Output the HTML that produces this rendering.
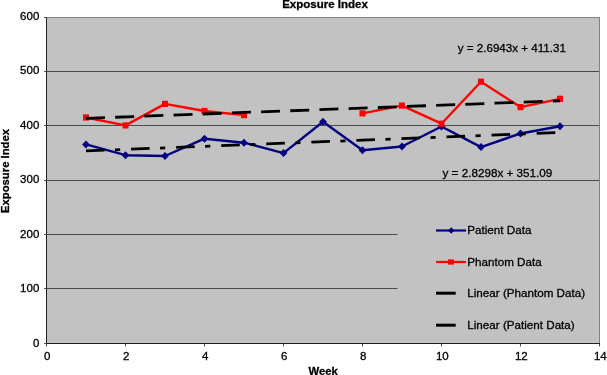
<!DOCTYPE html><html><head><meta charset="utf-8"><title>Exposure Index</title>
<style>html,body{margin:0;padding:0;background:#fff;overflow:hidden}svg{display:block}text{font-family:"Liberation Sans",Arial,sans-serif;fill:#000;stroke:#000;stroke-width:0.3px}</style></head><body>
<svg width="607" height="375" viewBox="0 0 607 375">
<defs><pattern id="dith" width="2" height="2" patternUnits="userSpaceOnUse"><rect width="2" height="2" fill="#bfbfbf"/><rect width="1" height="1" fill="#c5c5c5"/><rect x="1" y="1" width="1" height="1" fill="#c5c5c5"/></pattern></defs>
<rect width="607" height="375" fill="#fff"/>
<rect x="46.5" y="17.5" width="553" height="326" fill="url(#dith)" stroke="#808080" stroke-width="1"/>
<line x1="46.5" x2="599" y1="288.5" y2="288.5" stroke="#4a4a4a" stroke-width="1"/>
<line x1="46.5" x2="599" y1="234.5" y2="234.5" stroke="#4a4a4a" stroke-width="1"/>
<line x1="46.5" x2="599" y1="180.5" y2="180.5" stroke="#4a4a4a" stroke-width="1"/>
<line x1="46.5" x2="599" y1="125.5" y2="125.5" stroke="#4a4a4a" stroke-width="1"/>
<line x1="46.5" x2="599" y1="71.5" y2="71.5" stroke="#4a4a4a" stroke-width="1"/>
<rect x="397.5" y="211" width="201.5" height="131" fill="url(#dith)"/>
<line x1="46.5" x2="46.5" y1="17" y2="344" stroke="#202020" stroke-width="1"/>
<line x1="46" x2="600" y1="343.5" y2="343.5" stroke="#202020" stroke-width="1"/>
<line x1="44" x2="46.5" y1="343.5" y2="343.5" stroke="#505050" stroke-width="1"/>
<text x="39.3" y="346.82" font-size="11.5" text-anchor="end">0</text>
<line x1="44" x2="46.5" y1="288.5" y2="288.5" stroke="#505050" stroke-width="1"/>
<text x="39.3" y="292.35" font-size="11.5" text-anchor="end">100</text>
<line x1="44" x2="46.5" y1="234.5" y2="234.5" stroke="#505050" stroke-width="1"/>
<text x="39.3" y="237.88" font-size="11.5" text-anchor="end">200</text>
<line x1="44" x2="46.5" y1="180.5" y2="180.5" stroke="#505050" stroke-width="1"/>
<text x="39.3" y="183.41" font-size="11.5" text-anchor="end">300</text>
<line x1="44" x2="46.5" y1="125.5" y2="125.5" stroke="#505050" stroke-width="1"/>
<text x="39.3" y="128.94" font-size="11.5" text-anchor="end">400</text>
<line x1="44" x2="46.5" y1="71.5" y2="71.5" stroke="#505050" stroke-width="1"/>
<text x="39.3" y="74.47" font-size="11.5" text-anchor="end">500</text>
<line x1="44" x2="46.5" y1="17.5" y2="17.5" stroke="#505050" stroke-width="1"/>
<text x="39.3" y="20.00" font-size="11.5" text-anchor="end">600</text>
<line x1="46.50" x2="46.50" y1="344" y2="346.5" stroke="#505050" stroke-width="1"/>
<text x="47.30" y="359.8" font-size="11.5" text-anchor="middle">0</text>
<line x1="125.50" x2="125.50" y1="344" y2="346.5" stroke="#505050" stroke-width="1"/>
<text x="126.30" y="359.8" font-size="11.5" text-anchor="middle">2</text>
<line x1="204.50" x2="204.50" y1="344" y2="346.5" stroke="#505050" stroke-width="1"/>
<text x="205.30" y="359.8" font-size="11.5" text-anchor="middle">4</text>
<line x1="283.50" x2="283.50" y1="344" y2="346.5" stroke="#505050" stroke-width="1"/>
<text x="284.30" y="359.8" font-size="11.5" text-anchor="middle">6</text>
<line x1="362.50" x2="362.50" y1="344" y2="346.5" stroke="#505050" stroke-width="1"/>
<text x="363.30" y="359.8" font-size="11.5" text-anchor="middle">8</text>
<line x1="441.50" x2="441.50" y1="344" y2="346.5" stroke="#505050" stroke-width="1"/>
<text x="442.30" y="359.8" font-size="11.5" text-anchor="middle">10</text>
<line x1="520.50" x2="520.50" y1="344" y2="346.5" stroke="#505050" stroke-width="1"/>
<text x="521.30" y="359.8" font-size="11.5" text-anchor="middle">12</text>
<line x1="599.50" x2="599.50" y1="344" y2="346.5" stroke="#505050" stroke-width="1"/>
<text x="600.30" y="359.8" font-size="11.5" text-anchor="middle">14</text>
<polyline fill="none" stroke="#000080" stroke-width="2.4" stroke-linejoin="round" points="86.0,144.4 125.5,155.2 165.0,156.0 204.5,138.7 244.0,142.7 283.5,153.1 323.0,121.8 362.5,150.3 402.0,146.5 441.5,126.5 481.0,147.1 520.5,133.5 560.0,126.2"/>
<path d="M86.0 140.4L89.9 144.4L86.0 148.4L82.1 144.4Z" fill="#000080"/>
<path d="M125.5 151.2L129.4 155.2L125.5 159.2L121.6 155.2Z" fill="#000080"/>
<path d="M165.0 152.0L168.9 156.0L165.0 160.0L161.1 156.0Z" fill="#000080"/>
<path d="M204.5 134.7L208.4 138.7L204.5 142.7L200.6 138.7Z" fill="#000080"/>
<path d="M244.0 138.7L247.9 142.7L244.0 146.7L240.1 142.7Z" fill="#000080"/>
<path d="M283.5 149.1L287.4 153.1L283.5 157.1L279.6 153.1Z" fill="#000080"/>
<path d="M323.0 117.8L326.9 121.8L323.0 125.8L319.1 121.8Z" fill="#000080"/>
<path d="M362.5 146.3L366.4 150.3L362.5 154.3L358.6 150.3Z" fill="#000080"/>
<path d="M402.0 142.5L405.9 146.5L402.0 150.5L398.1 146.5Z" fill="#000080"/>
<path d="M441.5 122.5L445.4 126.5L441.5 130.5L437.6 126.5Z" fill="#000080"/>
<path d="M481.0 143.1L484.9 147.1L481.0 151.1L477.1 147.1Z" fill="#000080"/>
<path d="M520.5 129.5L524.4 133.5L520.5 137.5L516.6 133.5Z" fill="#000080"/>
<path d="M560.0 122.2L563.9 126.2L560.0 130.2L556.1 126.2Z" fill="#000080"/>
<polyline fill="none" stroke="#ff0000" stroke-width="2.4" stroke-linejoin="round" points="86.0,117.5 125.5,125.4 165.0,103.9 204.5,111.0 244.0,115.1"/>
<polyline fill="none" stroke="#ff0000" stroke-width="2.4" stroke-linejoin="round" points="362.5,113.4 402.0,105.6 441.5,123.7 481.0,81.7 520.5,107.1 560.0,98.8"/>
<rect x="83.0" y="114.4" width="6" height="6.2" fill="#ff0000"/>
<rect x="122.5" y="122.3" width="6" height="6.2" fill="#ff0000"/>
<rect x="162.0" y="100.8" width="6" height="6.2" fill="#ff0000"/>
<rect x="201.5" y="107.9" width="6" height="6.2" fill="#ff0000"/>
<rect x="241.0" y="112.0" width="6" height="6.2" fill="#ff0000"/>
<rect x="359.5" y="110.3" width="6" height="6.2" fill="#ff0000"/>
<rect x="399.0" y="102.5" width="6" height="6.2" fill="#ff0000"/>
<rect x="438.5" y="120.6" width="6" height="6.2" fill="#ff0000"/>
<rect x="478.0" y="78.6" width="6" height="6.2" fill="#ff0000"/>
<rect x="517.5" y="104.0" width="6" height="6.2" fill="#ff0000"/>
<rect x="557.0" y="95.7" width="6" height="6.2" fill="#ff0000"/>
<line x1="86.00" y1="118.32" x2="560.00" y2="100.77" stroke="#000" stroke-width="2.8" stroke-dasharray="19 10.2"/>
<line x1="86.00" y1="150.93" x2="560.00" y2="132.50" stroke="#000" stroke-width="2.8" stroke-dasharray="18.6 10.4 5.2 10.9"/>
<text x="457.8" y="51.8" font-size="11.6">y = 2.6943x + 411.31</text>
<text x="442.5" y="177.3" font-size="11.7">y = 2.8298x + 351.09</text>
<line x1="436" x2="466" y1="230.5" y2="230.5" stroke="#000080" stroke-width="2.2"/>
<path d="M451.2 227.3L454.4 230.5L451.2 233.7L448.0 230.5Z" fill="#000080"/>
<line x1="436" x2="466" y1="262" y2="262" stroke="#ff0000" stroke-width="2.2"/>
<rect x="448" y="259.4" width="6" height="5.2" fill="#ff0000"/>
<line x1="436" x2="455.7" y1="293.2" y2="293.2" stroke="#000" stroke-width="3"/>
<line x1="436" x2="455.7" y1="325.2" y2="325.2" stroke="#000" stroke-width="3"/>
<text x="467.3" y="234.1" font-size="11.65">Patient Data</text>
<text x="467.3" y="265.6" font-size="11.65">Phantom Data</text>
<text x="467.3" y="296.8" font-size="11.65">Linear (Phantom Data)</text>
<text x="467.3" y="328.8" font-size="11.65">Linear (Patient Data)</text>
<text x="325" y="8.2" font-size="11.5" font-weight="bold" text-anchor="middle">Exposure Index</text>
<text x="323.1" y="374.6" font-size="11.3" font-weight="bold" text-anchor="middle">Week</text>
<text transform="translate(9.2,171) rotate(-90)" font-size="11.3" font-weight="bold" text-anchor="middle">Exposure Index</text>
</svg></body></html>
